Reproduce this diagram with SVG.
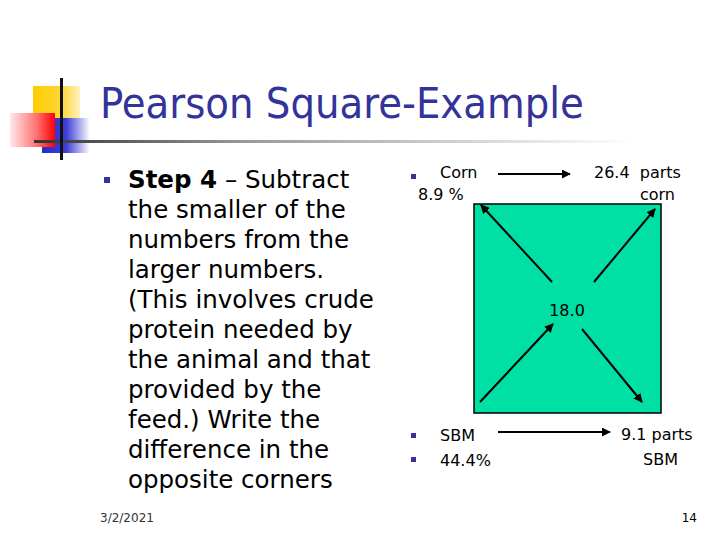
<svg xmlns="http://www.w3.org/2000/svg" width="720" height="540" viewBox="0 0 720 540">
<defs>
<linearGradient id="gY" x1="0" y1="0" x2="1" y2="0"><stop offset="0" stop-color="#ffcc00"/><stop offset="0.6" stop-color="#ffd633"/><stop offset="1" stop-color="#fff2c0"/></linearGradient>
<linearGradient id="gB" x1="0" y1="0" x2="1" y2="0"><stop offset="0" stop-color="#2a2ac8"/><stop offset="0.5" stop-color="#3d3dd6"/><stop offset="1" stop-color="#ffffff"/></linearGradient>
<linearGradient id="gR" x1="0" y1="0" x2="1" y2="0"><stop offset="0" stop-color="#ffe8e8"/><stop offset="0.6" stop-color="#ff7070"/><stop offset="1" stop-color="#ff0000"/></linearGradient>
<linearGradient id="gL" x1="0" y1="0" x2="1" y2="0"><stop offset="0" stop-color="#333333"/><stop offset="0.35" stop-color="#999999"/><stop offset="1" stop-color="#ffffff"/></linearGradient>
<marker id="ah" viewBox="0 0 10 10" refX="9" refY="5" markerWidth="4.5" markerHeight="4.5" orient="auto" markerUnits="strokeWidth"><path d="M0,0 L10,5 L0,10 z" fill="#000"/></marker>
<style>
.body{font-family:"DejaVu Sans",sans-serif;font-size:24.5px;fill:#000}
.lbl{font-family:"DejaVu Sans",sans-serif;font-size:16px;fill:#000;white-space:pre}
.bul{fill:#333399}
.arr{stroke:#000;stroke-width:2;fill:none;marker-end:url(#ah)}
</style>
</defs>
<rect width="720" height="540" fill="#fff"/>
<g id="logo">
<rect x="33" y="86" width="47" height="34" fill="url(#gY)"/>
<rect x="42" y="118" width="48" height="35" fill="url(#gB)"/>
<rect x="10" y="113" width="45" height="34" fill="url(#gR)"/>
<rect x="34" y="140" width="600" height="3" fill="url(#gL)"/>
<rect x="60" y="78" width="3" height="82" fill="#111"/>
</g>
<g id="title">
<text x="100" y="118" font-family="'DejaVu Sans Condensed','DejaVu Sans',sans-serif" font-size="43" fill="#333399">Pearson Square-Example</text>
</g>
<g id="step4">
<rect class="bul" x="104" y="177" width="6" height="6"/>
<text class="body" x="128" y="188"><tspan font-weight="bold">Step 4</tspan> – Subtract</text>
<text class="body" x="128" y="218">the smaller of the</text>
<text class="body" x="128" y="248">numbers from the</text>
<text class="body" x="128" y="278">larger numbers.</text>
<text class="body" x="128" y="308">(This involves crude</text>
<text class="body" x="128" y="338">protein needed by</text>
<text class="body" x="128" y="368">the animal and that</text>
<text class="body" x="128" y="398">provided by the</text>
<text class="body" x="128" y="428">feed.) Write the</text>
<text class="body" x="128" y="458">difference in the</text>
<text class="body" x="128" y="488">opposite corners</text>
</g>
<g id="square">
<rect x="474" y="204" width="187" height="209" fill="#00e0a4" stroke="#000" stroke-width="1.5"/>
<text class="lbl" x="567" y="316" text-anchor="middle">18.0</text>
</g>
<g id="corn">
<rect class="bul" x="411" y="174" width="5" height="5"/>
<text class="lbl" x="440" y="178">Corn</text>
<text class="lbl" x="418" y="200">8.9 %</text>
</g>
<g id="cornParts">
<text class="lbl" x="594" y="178" xml:space="preserve">26.4  parts</text>
<text class="lbl" x="675" y="200" text-anchor="end">corn</text>
</g>
<g id="sbm">
<rect class="bul" x="411" y="433" width="5" height="5"/>
<rect class="bul" x="411" y="457" width="5" height="5"/>
<text class="lbl" x="440" y="441">SBM</text>
<text class="lbl" x="440" y="466">44.4%</text>
</g>
<g id="sbmParts">
<text class="lbl" x="621" y="440">9.1 parts</text>
<text class="lbl" x="678" y="465" text-anchor="end">SBM</text>
</g>
<g id="connectors">
<line class="arr" x1="498" y1="174" x2="570" y2="174"/>
<line class="arr" x1="498" y1="432" x2="610" y2="432"/>
<line class="arr" x1="552" y1="282" x2="481" y2="205"/>
<line class="arr" x1="594" y1="282" x2="655" y2="209"/>
<line class="arr" x1="480" y1="402" x2="553" y2="324"/>
<line class="arr" x1="582" y1="329" x2="642" y2="402"/>
</g>
<g id="footer">
<text x="100" y="522" font-family="'DejaVu Sans',sans-serif" font-size="12" fill="#333">3/2/2021</text>
<text x="697" y="522" text-anchor="end" font-family="'DejaVu Sans',sans-serif" font-size="12" fill="#000">14</text>
</g>
</svg>
